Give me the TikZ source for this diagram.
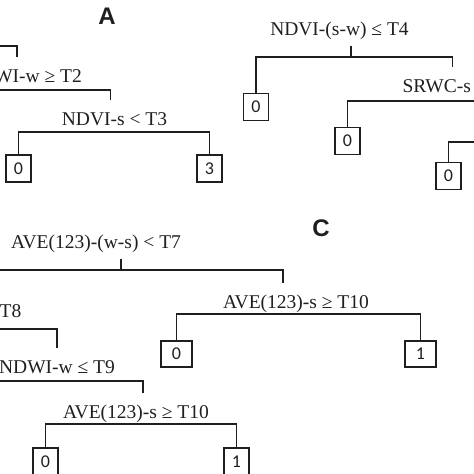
\documentclass[tikz,border=0pt]{standalone}
\usepackage{fontspec}
\setmainfont{Liberation Serif}
\newfontfamily\boxfont{Carlito}
\newfontfamily\panelfont{Liberation Sans}

\begin{document}
\begin{tikzpicture}[x=1pt, y=-1pt, line width=1.2pt, color=black!88,
  split/.style={anchor=base, inner sep=0pt, text height=24pt, text depth=10pt,
    font=\fontsize{19.5}{20}\selectfont},
  leaf/.style={draw, inner sep=0pt, minimum width=25pt, minimum height=27pt,
    font=\boxfont\fontsize{18}{18}\selectfont},
  wideleaf/.style={leaf, minimum width=31pt, minimum height=26pt},
  panel/.style={inner sep=0pt, font=\panelfont\bfseries\fontsize{24}{24}\selectfont}]
 \useasboundingbox (0,0) rectangle (474,474);
 \clip (0,0) rectangle (474,474);

 \node[panel] (labA) at (107,16) {A};
 \node[panel] (labC) at (321,228) {C};

 % tree A
 \node[split] (t2) at (24,82) {NDWI-w ≥ T2};
 \node[split] (t3) at (114.5,125) {NDVI-s < T3};
 \node[leaf] (a0) at (18.5,168.5) {0};
 \node[leaf] (a3) at (209.5,168.5) {3};
 \coordinate (t1bar) at (-40,46);
 \coordinate (t2bar) at (-10,90);
 \coordinate (t3bar) at (111.5,132);

 \draw (t1bar) -| ([xshift=-7pt]t2.north);
 \draw (t2bar) -| ([xshift=-4pt]t3.north);
 \draw (t3bar) -| (a0.north);
 \draw (t3bar) -| (a3.north);

 % tree B
 \node[split] (t4) at (339.5,35) {NDVI-(s-w) ≤ T4};
 \node[split, anchor=base west] (t5) at (402,92) {SRWC-s};
 \node[leaf] (b0) at (256,107) {0};
 \node[leaf] (b1) at (347.5,141) {0};
 \node[leaf] (b2) at (448.5,176) {0};
 \coordinate (t4bar) at (351,57);
 \coordinate (t5bar) at (500,101);
 \coordinate (t6bar) at (500,142);

 \draw (t4.south -| t4bar) -- (t4bar);
 \draw (t4bar) -| (b0.north);
 \draw (t4bar) -| ([xshift=15.5pt]t5.north);
 \draw (t5bar) -| (b1.north);
 \draw (t6bar) -| (b2.north);

 % tree C
 \node[split] (t7) at (96,248) {AVE(123)-(w-s) < T7};
 \node[split, anchor=base east] (t8) at (22,317) {T8};
 \node[split] (t9) at (57,373) {NDWI-w ≤ T9};
 \node[split] (t10) at (296,308) {AVE(123)-s ≥ T10};
 \node[split] (t11) at (136,418) {AVE(123)-s ≥ T10};
 \node[wideleaf] (c0) at (176.5,354) {0};
 \node[wideleaf] (c1) at (420.5,354) {1};
 \node[leaf] (d0) at (45.5,461.5) {0};
 \node[leaf] (d1) at (236.5,461.5) {1};
 \coordinate (t7bar) at (121,270);
 \coordinate (t7out) at (-10,270);
 \coordinate (t8bar) at (-20,329);
 \coordinate (t9bar) at (-30,381);
 \coordinate (t10bar) at (299,314);
 \coordinate (t11bar) at (139,424);

 \draw (t7.south -| t7bar) -- (t7bar);
 \draw (t7out) -| ([xshift=-13pt]t10.north);
 \draw (t8bar) -| (t9.north);
 \draw (t9bar) -| ([xshift=7pt]t11.north);
 \draw (t10bar) -| (c0.north);
 \draw (t10bar) -| (c1.north);
 \draw (t11bar) -| (d0.north);
 \draw (t11bar) -| (d1.north);

\end{tikzpicture}
\end{document}
